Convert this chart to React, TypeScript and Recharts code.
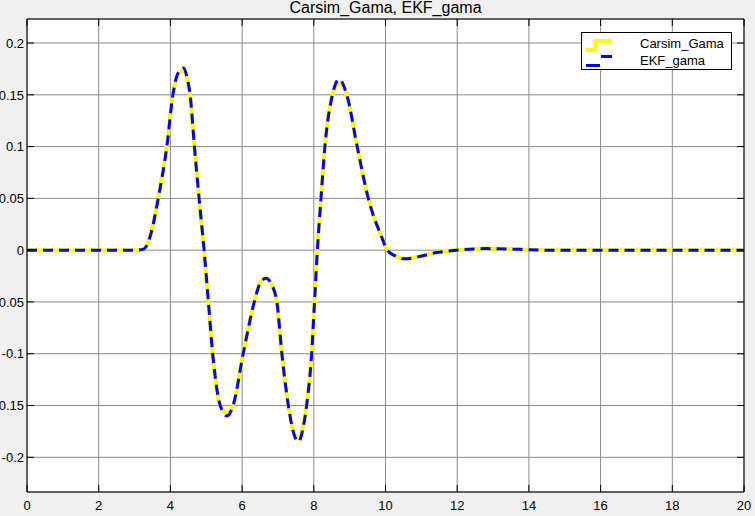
import React from 'react';
import { LineChart, Line, XAxis, YAxis, CartesianGrid } from 'recharts';

// time axis (s)
const timeValues = [
  0, 1, 2, 3, 3.25, 3.45, 3.66, 3.9, 4.07, 4.2, 4.36, 4.47, 4.55, 4.67, 4.8, 4.94,
  5.06, 5.18, 5.39, 5.58, 5.75, 6.03, 6.34, 6.5, 6.67, 6.82, 6.97, 7.11, 7.29, 7.45,
  7.57, 7.7, 7.8, 7.94, 8.02, 8.1, 8.2, 8.31, 8.52, 8.71, 8.92, 9.21, 9.52, 9.89,
  10.05, 10.3, 10.54, 10.9, 11.43, 12, 12.8, 13.75, 14.5, 16, 18, 20,
];

const carsimGama = [
  0, 0, 0, 0, 0.001, 0.015, 0.05, 0.1, 0.15, 0.168, 0.174, 0.165, 0.15, 0.1, 0.05, 0,
  -0.05, -0.1, -0.15, -0.157, -0.15, -0.1, -0.05, -0.032, -0.027, -0.033, -0.05, -0.1, -0.15, -0.176,
  -0.182, -0.17, -0.15, -0.1, -0.05, 0, 0.05, 0.1, 0.15, 0.161, 0.15, 0.1, 0.05, 0.013,
  0, -0.006, -0.0084, -0.0065, -0.0023, 0, 0.0015, 0.0008, 0, 0, 0, 0,
];

const ekfGama = [
  0, 0, 0, 0, 0.001, 0.015, 0.05, 0.1, 0.15, 0.17, 0.176, 0.166, 0.15, 0.1, 0.05, 0,
  -0.05, -0.1, -0.15, -0.16, -0.15, -0.1, -0.05, -0.032, -0.027, -0.033, -0.05, -0.1, -0.15, -0.178,
  -0.185, -0.172, -0.15, -0.1, -0.05, 0, 0.05, 0.1, 0.15, 0.165, 0.15, 0.1, 0.05, 0.013,
  0, -0.006, -0.0084, -0.0065, -0.0023, 0, 0.0015, 0.0008, 0, 0, 0, 0,
];

const xTicks = [0, 2, 4, 6, 8, 10, 12, 14, 16, 18, 20];
const yTicks = [-0.2, -0.15, -0.1, -0.05, 0, 0.05, 0.1, 0.15, 0.2];
const yDomain = [-0.2335, 0.2232];

const data = timeValues.map((t, i) => ({ t, carsim: carsimGama[i], ekf: ekfGama[i] }));

const FONT = '"Liberation Sans", Arial, Helvetica, sans-serif';
const TICK_LEN = 7;

const fmt = (v: number) => String(Math.round(v * 100) / 100);

const BottomTick = (props: any) => {
  const { x, y, payload } = props;
  return (
    <g>
      <line x1={x} x2={x} y1={y} y2={y - TICK_LEN} stroke="#000" />
      <text x={x} y={y + 18} textAnchor="middle" fontSize={13} fontFamily={FONT} fill="#000">
        {fmt(payload.value)}
      </text>
    </g>
  );
};

const TopTick = (props: any) => {
  const { x, y } = props;
  return <line x1={x} x2={x} y1={y} y2={y + TICK_LEN} stroke="#000" />;
};

const LeftTick = (props: any) => {
  const { x, y, payload } = props;
  return (
    <g>
      <line x1={x} x2={x + TICK_LEN} y1={y} y2={y} stroke="#000" />
      <text x={x - 3} y={y + 4.7} textAnchor="end" fontSize={13} fontFamily={FONT} fill="#000">
        {fmt(payload.value)}
      </text>
    </g>
  );
};

const RightTick = (props: any) => {
  const { x, y } = props;
  return <line x1={x} x2={x - TICK_LEN} y1={y} y2={y} stroke="#000" />;
};

const Legend = () => (
  <div
    style={{
      position: 'absolute',
      left: 581,
      top: 32,
      width: 149,
      height: 36,
      background: '#fff',
      border: '1px solid #000',
      fontFamily: FONT,
      fontSize: 13,
    }}
  >
    <svg width={40} height={36} style={{ position: 'absolute', left: 0, top: 0 }}>
      <polyline points="4,17 13.5,17 13.5,8 30,8" fill="none" stroke="#ffff00" strokeWidth={4} />
      <line x1={4} x2={18} y1={32.5} y2={32.5} stroke="#0000ff" strokeWidth={3} />
      <line x1={19} x2={30} y1={23.5} y2={23.5} stroke="#0000ff" strokeWidth={3} />
    </svg>
    <div style={{ position: 'absolute', left: 58, top: 3, lineHeight: '15px' }}>Carsim_Gama</div>
    <div style={{ position: 'absolute', left: 58, top: 20, lineHeight: '15px' }}>EKF_gama</div>
  </div>
);

export default function App() {
  return (
    <div
      style={{
        position: 'absolute',
        left: 0,
        top: 0,
        width: 755,
        height: 516,
        background: '#f0f0f0',
        overflow: 'hidden',
      }}
    >
      <div
        style={{
          position: 'absolute',
          left: 27,
          width: 717,
          top: -2,
          textAlign: 'center',
          fontFamily: FONT,
          fontSize: 16,
          lineHeight: '20px',
          color: '#000',
        }}
      >
        Carsim_Gama, EKF_gama
      </div>
      <LineChart width={755} height={516} data={data} margin={{ top: 0, right: 0, bottom: 0, left: 0 }}>
        <CartesianGrid fill="#fff" stroke="#8a8a8a" strokeOpacity={1} />
        <XAxis
          dataKey="t"
          type="number"
          domain={[0, 20]}
          ticks={xTicks}
          allowDataOverflow
          height={24}
          tickSize={0}
          tickMargin={0}
          tickLine={false}
          axisLine={{ stroke: '#000' }}
          tick={BottomTick}
          interval={0}
        />
        <XAxis
          xAxisId="top"
          orientation="top"
          dataKey="t"
          type="number"
          domain={[0, 20]}
          ticks={xTicks}
          allowDataOverflow
          height={19}
          tickSize={0}
          tickMargin={0}
          tickLine={false}
          axisLine={{ stroke: '#000' }}
          tick={TopTick}
          interval={0}
        />
        <YAxis
          type="number"
          domain={yDomain}
          ticks={yTicks}
          allowDataOverflow
          width={27}
          tickSize={0}
          tickMargin={0}
          tickLine={false}
          axisLine={{ stroke: '#000' }}
          tick={LeftTick}
          interval={0}
        />
        <YAxis
          yAxisId="right"
          orientation="right"
          type="number"
          domain={yDomain}
          ticks={yTicks}
          allowDataOverflow
          width={11}
          tickSize={0}
          tickMargin={0}
          tickLine={false}
          axisLine={{ stroke: '#000' }}
          tick={RightTick}
          interval={0}
        />
        <Line
          type="monotone"
          dataKey="carsim"
          stroke="#ffff00"
          strokeWidth={4}
          dot={false}
          activeDot={false}
          isAnimationActive={false}
        />
        <Line
          type="monotone"
          dataKey="ekf"
          stroke="#0000ff"
          strokeWidth={3}
          strokeDasharray="10 6"
          dot={false}
          activeDot={false}
          isAnimationActive={false}
        />
      </LineChart>
      <Legend />
    </div>
  );
}
